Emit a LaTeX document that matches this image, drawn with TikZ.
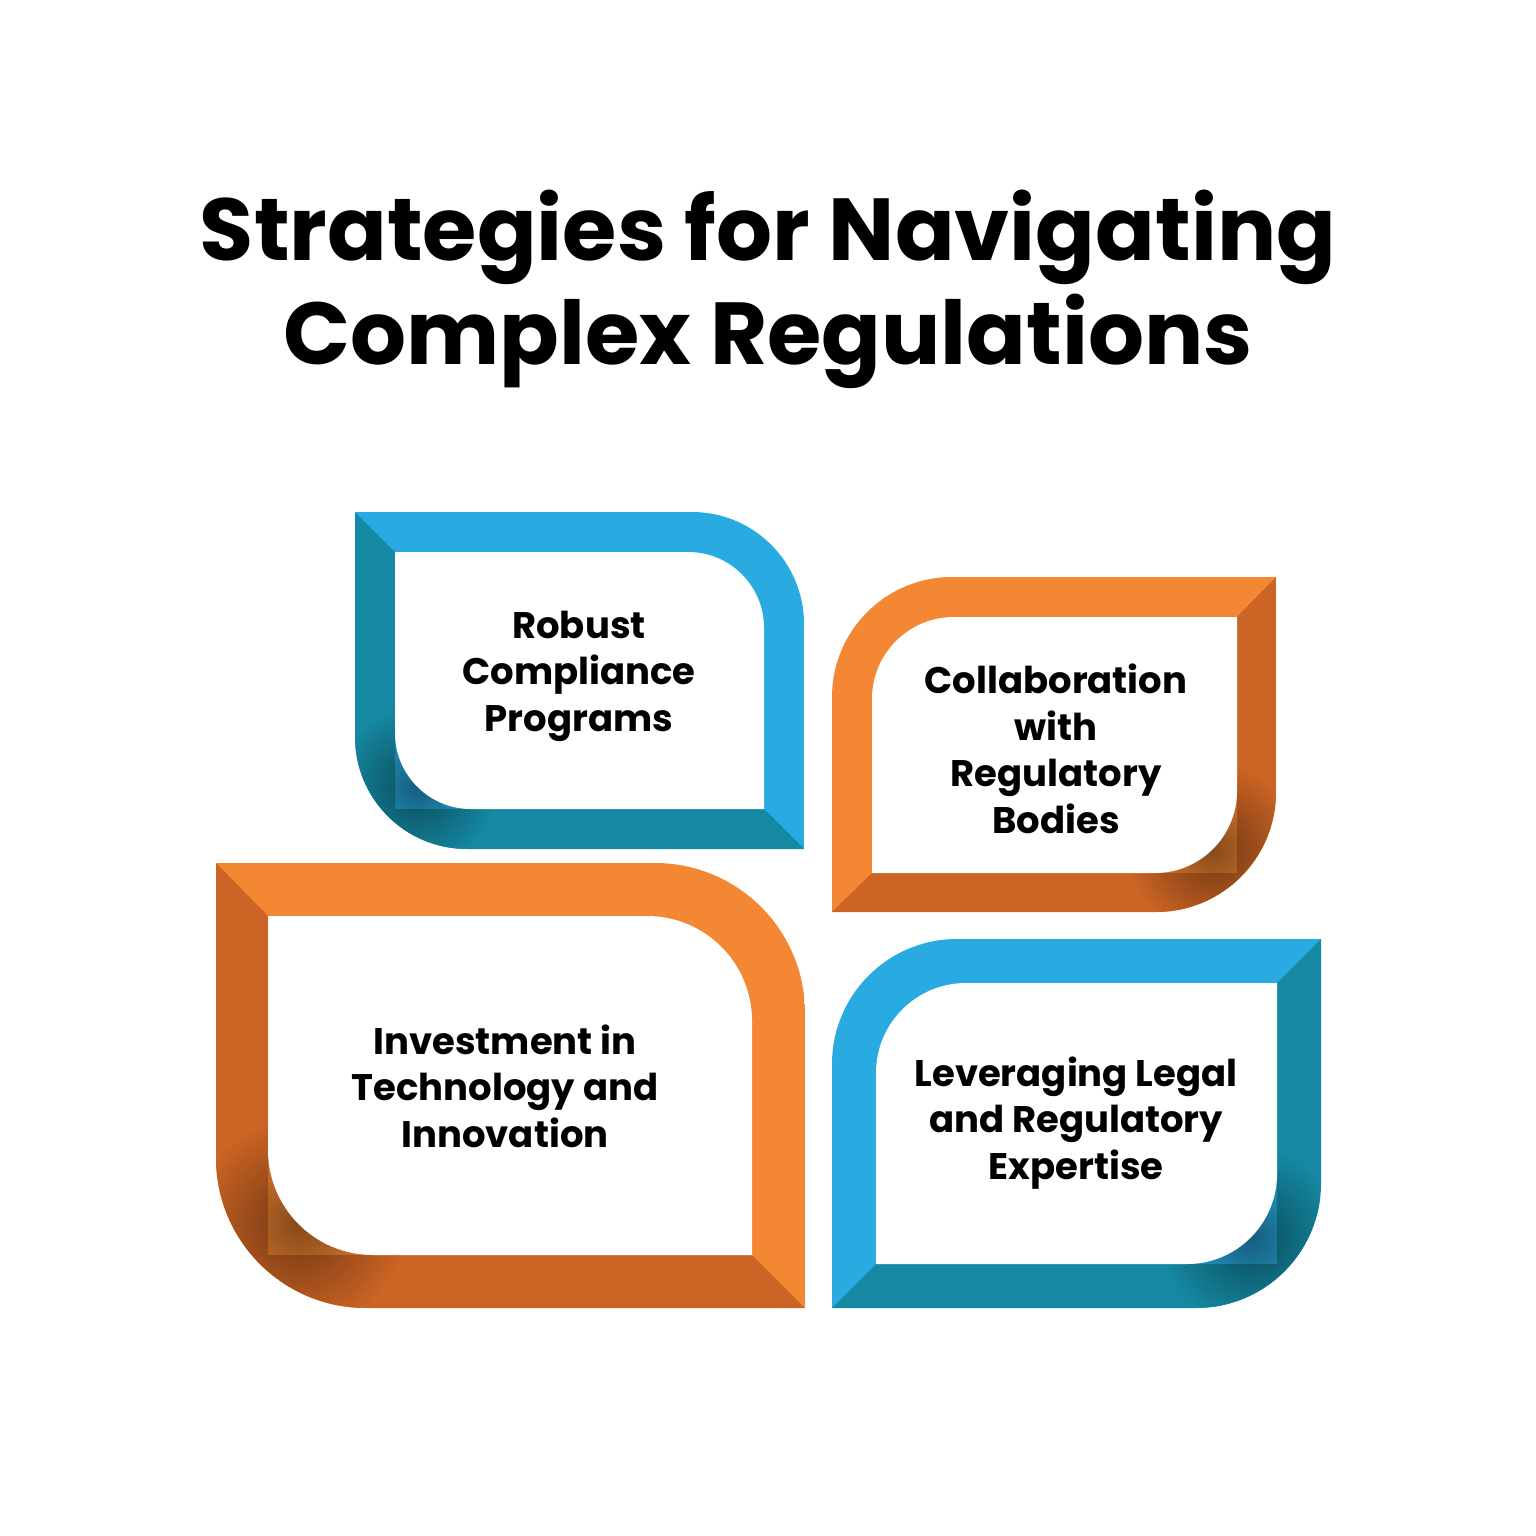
\documentclass[tikz,border=0pt]{standalone}
\usepackage{fontspec}
\setmainfont{Poppins}
\usetikzlibrary{fadings}
\definecolor{skyblue}{HTML}{29ABE2}
\definecolor{deepteal}{HTML}{1589A3}
\definecolor{lightorange}{HTML}{F48733}
\definecolor{darkorange}{HTML}{CB6424}
\tikzfading[name=softshade, inner color=transparent!55, outer color=transparent!100]
\begin{document}
\begin{tikzpicture}[x=0.5pt,y=-0.5pt,
  title/.style={anchor=base,inner sep=0pt,font=\fontsize{44}{52}\selectfont\bfseries},
  txt/.style={align=center,inner sep=0pt,font=\fontsize{18.5}{23.3}\selectfont\bfseries},
  shade/.style={black,path fading=softshade}]
\fill[white] (0,0) rectangle (1536,1536);
\node[title] (ttl1) at (768,260) {Strategies for Navigating};
\node[title] (ttl2) at (768,364) {Complex Regulations};
% top left, blue
\begin{scope}
\clip (355,512) -- (692,512) arc[start angle=-90,end angle=0,radius=112] -- (804,849)
  -- (467,849) arc[start angle=90,end angle=180,radius=112] -- cycle;
\fill[skyblue] (355,512) rectangle (804,849);
\fill[deepteal] (355,512) -- (355,849) -- (804,849) -- (764,809) -- (395,809) -- (395,552) -- cycle;
\fill[shade] (417,787) circle[radius=80];
\end{scope}
\fill[white] (395,552) -- (688,552) arc[start angle=-90,end angle=0,radius=76] -- (764,809)
  -- (471,809) arc[start angle=90,end angle=180,radius=76] -- cycle;
\node[txt] (rcp) at (579,676) {Robust\\Compliance\\Programs};
% top right, orange
\begin{scope}
\clip (832,697) arc[start angle=180,end angle=270,radius=120] -- (1276,577)
  -- (1276,792) arc[start angle=0,end angle=90,radius=120] -- (832,912) -- cycle;
\fill[lightorange] (832,577) rectangle (1276,912);
\fill[darkorange] (1276,577) -- (1276,912) -- (832,912) -- (872,873) -- (1237,873) -- (1237,617) -- cycle;
\fill[shade] (1213,849) circle[radius=85];
\end{scope}
\fill[white] (872,699) arc[start angle=180,end angle=270,radius=82] -- (1237,617)
  -- (1237,791) arc[start angle=0,end angle=90,radius=82] -- (872,873) -- cycle;
\node[txt] (crb) at (1056,749) {Collaboration\\with\\Regulatory\\Bodies};
% bottom left, orange
\begin{scope}
\clip (216,863) -- (655,863) arc[start angle=-90,end angle=0,radius=150] -- (805,1308)
  -- (366,1308) arc[start angle=90,end angle=180,radius=150] -- cycle;
\fill[lightorange] (216,863) rectangle (805,1308);
\fill[darkorange] (216,863) -- (216,1308) -- (805,1308) -- (752,1255) -- (268,1255) -- (268,916) -- cycle;
\fill[shade] (299,1224) circle[radius=105];
\end{scope}
\fill[white] (268,916) -- (647,916) arc[start angle=-90,end angle=0,radius=105] -- (752,1255)
  -- (373,1255) arc[start angle=90,end angle=180,radius=105] -- cycle;
\node[txt] (iti) at (505,1086) {Investment in\\Technology and\\Innovation};
% bottom right, blue
\begin{scope}
\clip (832,1064) arc[start angle=180,end angle=270,radius=125] -- (1321,939)
  -- (1321,1183) arc[start angle=0,end angle=90,radius=125] -- (832,1308) -- cycle;
\fill[skyblue] (832,939) rectangle (1321,1308);
\fill[deepteal] (1321,939) -- (1321,1308) -- (832,1308) -- (876,1264) -- (1277,1264) -- (1277,983) -- cycle;
\fill[shade] (1251,1238) circle[radius=90];
\end{scope}
\fill[white] (876,1073) arc[start angle=180,end angle=270,radius=90] -- (1277,983)
  -- (1277,1174) arc[start angle=0,end angle=90,radius=90] -- (876,1264) -- cycle;
\node[txt] (lre) at (1076,1123) {Leveraging Legal\\and Regulatory\\Expertise};
\end{tikzpicture}
\end{document}
